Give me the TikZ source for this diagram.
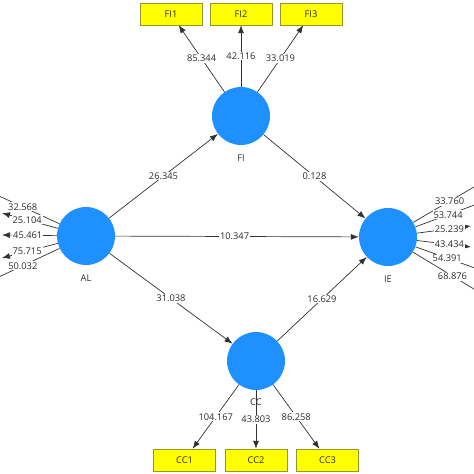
\documentclass[tikz,border=0pt]{standalone}
\usepackage{fontspec}
\setmainfont{Open Sans}
\usetikzlibrary{arrows.meta}

\definecolor{lvblue}{RGB}{30,144,255}
\definecolor{mvyellow}{RGB}{255,255,0}
\definecolor{mvedge}{RGB}{150,150,40}
\definecolor{txtgray}{RGB}{45,45,45}
\definecolor{linegray}{RGB}{50,50,50}

\begin{document}
\begin{tikzpicture}[x=1pt,y=-1pt,>={Latex[length=8pt,width=6pt]},
  latent/.style={circle,fill=lvblue,minimum size=58pt,inner sep=0pt},
  manifest/.style={rectangle,fill=mvyellow,draw=mvedge,line width=0.4pt,
    minimum width=62pt,minimum height=22pt,inner sep=0pt,
    font=\fontsize{9.3}{10}\selectfont,text=txtgray},
  link/.style={->,draw=linegray,line width=0.7pt},
  coef/.style={fill=white,inner sep=1pt,font=\fontsize{9.3}{10}\selectfont,text=txtgray},
  lvname/.style={font=\fontsize{9.3}{10}\selectfont,text=txtgray,inner sep=0pt}]
  % Frame of the picture (indicators on the sides run off it).
  \clip (0,0) rectangle (474,474);
  % Latent variables.
  \node[latent,label={[lvname,label distance=9pt]below:AL}] (AL) at (86,236) {};
  \node[latent,label={[lvname,label distance=9pt]below:FI}] (FI) at (241,116) {};
  \node[latent,label={[lvname,label distance=9pt]below:IE}] (IE) at (388,237) {};
  \node[latent,label={[lvname,label distance=8pt]below:CC}] (CC) at (256,361) {};
  % Indicators of FI and CC.
  \node[manifest] (FI1) at (171,14) {FI1};
  \node[manifest] (FI2) at (241,14) {FI2};
  \node[manifest] (FI3) at (311,14) {FI3};
  \node[manifest] (CC1) at (184.5,460) {CC1};
  \node[manifest] (CC2) at (256,460) {CC2};
  \node[manifest] (CC3) at (327.5,460) {CC3};
  % Ends of the indicator links that leave the frame.
  \coordinate (al1) at (-14,190);
  \coordinate (al2) at (2,213);
  \coordinate (al3) at (2,235);
  \coordinate (al4) at (2,258);
  \coordinate (al5) at (-14,283);
  \coordinate (ie1) at (486,180);
  \coordinate (ie2) at (488,200);
  \coordinate (ie3) at (471,226);
  \coordinate (ie4) at (471,247);
  \coordinate (ie5) at (486,272);
  \coordinate (ie6) at (492,300);
  % Structural paths.
  \draw[link] (AL) -- node[coef] {26.345} (FI);
  \draw[link] (FI) -- node[coef] {0.128} (IE);
  \draw[link] (AL) -- node[coef,pos=0.49] {10.347} (IE);
  \draw[link] (AL) -- node[coef] {31.038} (CC);
  \draw[link] (CC) -- node[coef] {16.629} (IE);
  % Outer loadings.
  \draw[link] (FI) -- node[coef] {85.344} (FI1);
  \draw[link] (FI) -- node[coef] {42.116} (FI2);
  \draw[link] (FI) -- node[coef] {33.019} (FI3);
  \draw[link] (CC) -- node[coef] {104.167} (CC1);
  \draw[link] (CC) -- node[coef] {43.803} (CC2);
  \draw[link] (CC) -- node[coef] {86.258} (CC3);
  \draw[link] (AL) -- node[coef] {32.568} (al1);
  \draw[link] (AL) -- node[coef,pos=0.55] {25.104} (al2);
  \draw[link] (AL) -- node[coef,pos=0.53] {45.461} (al3);
  \draw[link] (AL) -- node[coef,pos=0.55] {75.715} (al4);
  \draw[link] (AL) -- node[coef] {50.032} (al5);
  \draw[link] (IE) -- node[coef] {33.760} (ie1);
  \draw[link] (IE) -- node[coef,pos=0.45] {53.744} (ie2);
  \draw[link] (IE) -- node[coef,pos=0.6] {25.239} (ie3);
  \draw[link] (IE) -- node[coef,pos=0.6] {43.434} (ie4);
  \draw[link] (IE) -- node[coef,pos=0.45] {54.391} (ie5);
  \draw[link] (IE) -- node[coef] {68.876} (ie6);
\end{tikzpicture}
\end{document}
